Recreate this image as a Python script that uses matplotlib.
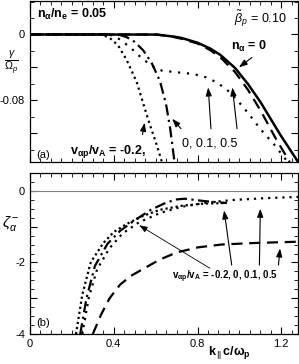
import numpy as np
import matplotlib
matplotlib.use("Agg")
import matplotlib.pyplot as plt
from matplotlib.ticker import MultipleLocator

plt.rcParams['font.family'] = ['Liberation Sans', 'DejaVu Sans']
plt.rcParams['mathtext.fontset'] = 'custom'
plt.rcParams['mathtext.rm'] = 'Liberation Sans'
plt.rcParams['mathtext.it'] = 'Liberation Sans:italic'
plt.rcParams['mathtext.bf'] = 'Liberation Sans:bold'

# (a) growth rate gamma/Omega_p vs k c/omega_p
k_n0 = [0, 0.6, 0.67, 0.72, 0.8, 0.86, 0.91, 0.98, 1.04, 1.1, 1.19, 1.28]
g_n0 = [0, 0, -0.002, -0.004, -0.010, -0.017, -0.025, -0.041, -0.06, -0.082, -0.12, -0.155]

k_05 = [0, 0.6, 0.67, 0.72, 0.8, 0.86, 0.91, 0.98, 1.04, 1.1, 1.17, 1.24]
g_05 = [0, 0, -0.002, -0.005, -0.011, -0.019, -0.028, -0.046, -0.067, -0.092, -0.125, -0.155]

k_01 = [0, 0.38, 0.43, 0.48, 0.53, 0.58, 0.63, 0.7, 0.78, 0.84, 0.89, 0.94, 0.98, 1.04, 1.1, 1.17, 1.23]
g_01 = [0, 0, -0.006, -0.016, -0.028, -0.038, -0.044, -0.046, -0.048, -0.052, -0.058, -0.067, -0.077, -0.095, -0.115, -0.135, -0.155]

k_00 = [0, 0.42, 0.46, 0.5, 0.54, 0.58, 0.62, 0.65, 0.67, 0.69]
g_00 = [0, 0, -0.003, -0.009, -0.019, -0.034, -0.056, -0.085, -0.115, -0.155]

k_m02 = [0, 0.34, 0.38, 0.42, 0.46, 0.51, 0.56, 0.6, 0.63]
g_m02 = [0, 0, -0.004, -0.013, -0.03, -0.058, -0.1, -0.13, -0.155]

# (b) zeta_alpha^- vs k c/omega_p
kb_m02 = [0.22, 0.25, 0.29, 0.35, 0.4, 0.46, 0.54, 0.62, 0.72, 0.82, 0.94]
zb_m02 = [-4.0, -2.9, -2.0, -1.46, -1.15, -0.93, -0.7, -0.53, -0.42, -0.36, -0.34]

kb_00 = [0.24, 0.27, 0.31, 0.37, 0.43, 0.5, 0.58, 0.65, 0.7, 0.74, 0.82, 0.94]
zb_00 = [-4.0, -3.0, -2.1, -1.48, -1.12, -0.82, -0.52, -0.33, -0.24, -0.22, -0.28, -0.34]

kb_01 = [0.25, 0.28, 0.32, 0.38, 0.44, 0.52, 0.62, 0.72, 0.84, 0.96, 1.1, 1.28]
zb_01 = [-4.0, -3.0, -2.2, -1.6, -1.2, -0.88, -0.62, -0.45, -0.33, -0.26, -0.21, -0.17]

kb_05 = [0.3, 0.34, 0.38, 0.43, 0.48, 0.54, 0.62, 0.7, 0.8, 0.91, 1.05, 1.17, 1.28]
zb_05 = [-4.0, -3.45, -3.0, -2.62, -2.38, -2.18, -1.92, -1.72, -1.58, -1.5, -1.46, -1.44, -1.42]

xticks = [0, 0.4, 0.8, 1.2]
xticklabels = ['0', '0.4', '0.8', '1.2']


def smooth(x, y, n=200):
    xs = np.linspace(x[0], x[-1], n)
    return xs, np.interp(xs, x, y)


fig = plt.figure(figsize=(2.99, 3.64), dpi=100)
ax1 = fig.add_axes([0.1, 0.555, 0.897, 0.443])
ax2 = fig.add_axes([0.1, 0.082, 0.897, 0.443])

lw = 1.6
ax1.plot(*smooth(k_n0, g_n0), color="black", lw=1.8, ls="-")
ax1.plot(*smooth(k_05, g_05), color="black", lw=lw, ls=(0, (5, 3)))
ax1.plot(*smooth(k_01, g_01), color="black", lw=lw, ls=(0, (1, 3)))
ax1.plot(*smooth(k_00, g_00), color="black", lw=lw, ls=(0, (5, 2, 1, 2)))
ax1.plot(*smooth(k_m02, g_m02), color="black", lw=lw, ls=(0, (1, 1.6)))

ax1.set_xlim(0, 1.28)
ax1.set_ylim(-0.155, 0.041)
ax1.set_yticks([0, -0.04, -0.08, -0.12])
ax1.set_yticklabels(['0', '', '-0.08', ''])
ax1.yaxis.set_minor_locator(MultipleLocator(0.02))
ax1.set_xticks(xticks)
ax1.set_xticklabels([])
ax1.xaxis.set_minor_locator(MultipleLocator(0.05))

ax1.text(0.035, 0.024, r"$\mathbf{n_\alpha/n_e}$ = 0.05", fontsize=9, fontweight="bold", va="center")
ax1.text(0.975, 0.019, r"$\tilde{\beta}_p$ = 0.10", fontsize=9, va="center")
ax1.text(0.96, -0.014, r"$\mathbf{n_\alpha}$ = 0", fontsize=9, fontweight="bold", va="center")
ax1.text(0.03, -0.146, "(a)", fontsize=8, va="center")
ax1.text(0.19, -0.142, r"$\mathbf{v_{\alpha p}/v_A}$ = -0.2,", fontsize=9, fontweight="bold", va="center")
ax1.text(0.86, -0.132, "0, 0.1, 0.5", fontsize=9, va="center", ha="center")
ax1.text(-0.09, -0.034, r"$\frac{\gamma}{\Omega_p}$", fontsize=11, ha="center", va="center",
         clip_on=False)

ap = dict(arrowstyle="-|>,head_length=0.5,head_width=0.18", color="black", lw=0.8)
ax1.annotate("", xy=(0.987, -0.042), xytext=(1.07, -0.026), arrowprops=ap)
ax1.annotate("", xy=(0.55, -0.104), xytext=(0.535, -0.125), arrowprops=ap)
ax1.annotate("", xy=(0.67, -0.1), xytext=(0.73, -0.117), arrowprops=ap)
ax1.annotate("", xy=(0.85, -0.061), xytext=(0.865, -0.118), arrowprops=ap)
ax1.annotate("", xy=(0.965, -0.061), xytext=(0.99, -0.118), arrowprops=ap)

ax2.axhline(0, color="gray", lw=0.8)
ax2.plot(*smooth(kb_m02, zb_m02), color="black", lw=lw, ls=(0, (1, 1.3)))
ax2.plot(*smooth(kb_00, zb_00), color="black", lw=lw, ls=(0, (5, 2, 1, 2)))
ax2.plot(*smooth(kb_01, zb_01), color="black", lw=lw, ls=(0, (1, 2.2)))
ax2.plot(*smooth(kb_05, zb_05), color="black", lw=lw, ls=(0, (5, 3)))

ax2.set_xlim(0, 1.28)
ax2.set_ylim(-4, 0.5)
ax2.set_yticks([0, -1, -2, -3, -4])
ax2.set_yticklabels(['0', '', '-2', '', '-4'])
ax2.yaxis.set_minor_locator(MultipleLocator(0.25))
ax2.set_xticks(xticks)
ax2.set_xticklabels(xticklabels)
ax2.xaxis.set_minor_locator(MultipleLocator(0.05))

ax2.text(0.03, -3.7, "(b)", fontsize=8, va="center")
ax2.text(0.93, -2.4, r"$\mathbf{v_{\alpha p}/v_A}$ = -0.2, 0, 0.1, 0.5", fontsize=7,
         fontweight="bold", ha="center", va="center")
ax2.text(-0.09, -0.9, r"$\zeta_\alpha^-$", fontsize=11, ha="center", va="center", clip_on=False)
ax2.text(0.95, -4.5, r"$\mathbf{k_{\parallel}c/\omega_p}$", fontsize=9, ha="center", va="center",
         clip_on=False)

ax2.annotate("", xy=(0.51, -0.92), xytext=(0.87, -2.2),
             arrowprops=dict(arrowstyle="-|>,head_length=0.5,head_width=0.18", color="black", lw=0.6))
ax2.annotate("", xy=(0.925, -0.47), xytext=(0.965, -2.15), arrowprops=ap)
ax2.annotate("", xy=(1.1, -0.42), xytext=(1.095, -2.15), arrowprops=ap)
ax2.annotate("", xy=(1.195, -1.53), xytext=(1.185, -2.15), arrowprops=ap)

for ax in (ax1, ax2):
    ax.tick_params(which="both", direction="in", top=True, right=True, labelsize=8)
    ax.tick_params(which="major", length=5, width=0.8)
    ax.tick_params(which="minor", length=3, width=0.6)
    for s in ax.spines.values():
        s.set_linewidth(0.9)

fig.savefig("out.png", dpi=100)
